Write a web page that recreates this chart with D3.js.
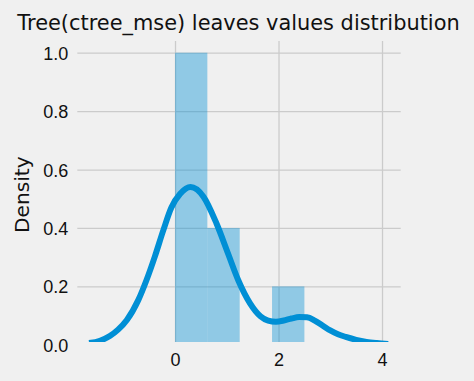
<!DOCTYPE html>
<html>
<head>
<meta charset="utf-8">
<script src="https://cdn.jsdelivr.net/npm/d3@7"></script>
<style>
  html, body { margin: 0; padding: 0; background: #f0f0f0; }
  svg { display: block; font-family: "DejaVu Sans", sans-serif; }
</style>
</head>
<body>
<svg id="chart" width="474" height="381"></svg>
<script>
// ---- data ----
const titleText = "Tree(ctree_mse) leaves values distribution";
const yLabelText = "Density";
const binEdges = [0, 0.625, 1.25, 1.875, 2.5];
const binDensity = [1.0, 0.4, 0.0, 0.2];
const kdeX = [-1.66, -1.45, -1.26, -1.1, -0.93, -0.71, -0.55, -0.39, -0.23, -0.07, 0.1, 0.3, 0.55, 0.8, 1.03, 1.22, 1.45, 1.65, 1.8, 1.95, 2.1, 2.25, 2.4, 2.55, 2.7, 2.85, 3.0, 3.15, 3.3, 3.5, 3.7, 3.9, 4.12];
const kdeY = [0.006, 0.014, 0.03, 0.052, 0.085, 0.153, 0.222, 0.302, 0.39, 0.47, 0.517, 0.54, 0.507, 0.416, 0.31, 0.222, 0.142, 0.098, 0.083, 0.079, 0.083, 0.09, 0.095, 0.094, 0.083, 0.066, 0.049, 0.036, 0.027, 0.017, 0.01, 0.006, 0.003];
const xTicks = [0, 2, 4];
const yTicks = [0.0, 0.2, 0.4, 0.6, 0.8, 1.0];

// ---- layout ----
const plot = { left: 77.3, right: 400.7, top: 41, bottom: 342 };
const svg = d3.select("#chart");

svg.append("rect").attr("width", 474).attr("height", 381).attr("fill", "#f0f0f0");

const x = d3.scaleLinear().domain([-1.888, 4.361]).range([plot.left, plot.right]);
const y = d3.scaleLinear().domain([0, 1.0]).range([344.8, 52.7]);

svg.append("defs").append("clipPath").attr("id", "plotclip")
  .append("rect")
  .attr("x", plot.left).attr("y", plot.top)
  .attr("width", plot.right - plot.left).attr("height", plot.bottom - plot.top);

// grid + axes
const yAxis = d3.axisLeft(y).tickValues(yTicks).tickFormat(d3.format(".1f"))
  .tickSize(-(plot.right - plot.left)).tickPadding(9);
const gy = svg.append("g").attr("transform", `translate(${plot.left},0)`).call(yAxis);
gy.select(".domain").remove();
gy.selectAll(".tick line").attr("stroke", "#cbcbcb").attr("stroke-width", 1.3)
  .attr("opacity", d => (y(d) > plot.bottom ? 0 : 1));
gy.selectAll(".tick text").attr("fill", "#111").style("font-size", "18px")
  .attr("dy", "0.36em");

const xAxis = d3.axisBottom(x).tickValues(xTicks).tickFormat(d3.format("d"))
  .tickSize(-(plot.bottom - plot.top)).tickPadding(11);
const gx = svg.append("g").attr("transform", `translate(0,${plot.bottom})`).call(xAxis);
gx.select(".domain").remove();
gx.selectAll(".tick line").attr("stroke", "#cbcbcb").attr("stroke-width", 1.3);
gx.selectAll(".tick text").attr("fill", "#111").style("font-size", "18px");

// histogram bars
const bins = binDensity.map((d, i) => ({ x0: binEdges[i], x1: binEdges[i + 1], d }));
const marks = svg.append("g").attr("clip-path", "url(#plotclip)");
marks.selectAll("rect.bar").data(bins).enter().append("rect")
  .attr("class", "bar")
  .attr("x", b => x(b.x0))
  .attr("width", b => x(b.x1) - x(b.x0))
  .attr("y", b => y(b.d))
  .attr("height", b => y(0) - y(b.d))
  .attr("fill", "#008fd5").attr("fill-opacity", 0.4);

// KDE line
const pts = kdeX.map((v, i) => [v, kdeY[i]]);
const line = d3.line().x(p => x(p[0])).y(p => y(p[1])).curve(d3.curveMonotoneX);
marks.append("path").datum(pts)
  .attr("d", line)
  .attr("fill", "none").attr("stroke", "#008fd5").attr("stroke-width", 6)
  .attr("stroke-linecap", "butt").attr("stroke-linejoin", "round");

// title
svg.append("text").attr("x", (plot.left + plot.right) / 2 - 0.5).attr("y", 29.5)
  .attr("text-anchor", "middle").attr("fill", "#111")
  .style("font-size", "20.9px").text(titleText);

// y label
svg.append("text").attr("transform", "translate(28.8,194.7) rotate(-90)")
  .attr("text-anchor", "middle").attr("fill", "#111")
  .style("font-size", "20.2px").text(yLabelText);
</script>
</body>
</html>
